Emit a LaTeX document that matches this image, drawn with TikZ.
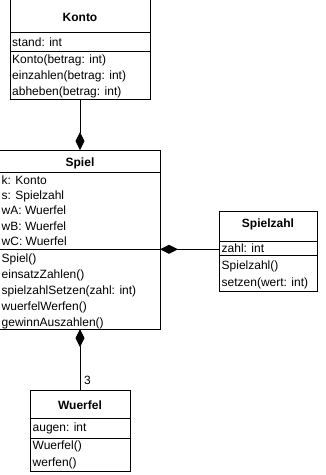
\documentclass[tikz,border=0pt]{standalone}
\usepackage{fontspec}
\setmainfont{Liberation Sans}
\usetikzlibrary{arrows.meta,calc,backgrounds}
\definecolor{shadowgray}{HTML}{C0C0C0}
\begin{document}
\begin{tikzpicture}[x=1pt,y=-1pt,
  classbox/.style={draw=black,line width=1pt,fill=white,inner sep=0pt,outer sep=0pt,anchor=north west},
  txt/.style={anchor=base west,inner sep=0pt,font=\fontsize{12}{14}\selectfont},
  ttl/.style={anchor=base,inner sep=0pt,font=\fontsize{12}{14}\selectfont\bfseries},
  sepline/.style={line width=1pt},
  comp/.style={line width=1pt,-{Diamond[length=18pt,width=9pt]}},
  shadowfill/.style={fill=shadowgray}
]
\useasboundingbox (0,0) rectangle (325,475);
\clip (0,0) rectangle (325,475);
\fill[white] (0,0) rectangle (325,475);

% class boxes
\node[classbox,minimum width=140pt,minimum height=104pt] (konto) at (10,-5) {};
\node[classbox,minimum width=165pt,minimum height=179pt] (spiel) at (-5,150) {};
\node[classbox,minimum width=98pt,minimum height=80pt] (szahl) at (219,211) {};
\node[classbox,minimum width=100pt,minimum height=81pt] (wuerfel) at (30,390) {};

% shadows
\begin{scope}[on background layer]
  \foreach \n in {konto,spiel,szahl,wuerfel}
    \fill[shadowfill] ($(\n.north west)+(4,4)$) rectangle ($(\n.south east)+(4,4)$);
\end{scope}

% Konto
\draw[sepline] (konto.west |- 0,32) -- (konto.east |- 0,32);
\draw[sepline] (konto.west |- 0,51) -- (konto.east |- 0,51);
\node[ttl] (kontoT) at (80,21.5) {Konto};
\node[txt] (kontoA1) at (12,46) {stand: int};
\node[txt] (kontoM1) at (12,63) {Konto(betrag: int)};
\node[txt] (kontoM2) at (12,79) {einzahlen(betrag: int)};
\node[txt] (kontoM3) at (12,95) {abheben(betrag: int)};

% Spiel
\draw[sepline] (spiel.west |- 0,172) -- (spiel.east |- 0,172);
\draw[sepline] (spiel.west |- 0,249) -- (spiel.east |- 0,249);
\node[ttl] (spielT) at (80,166) {Spiel};
\node[txt] (spielA1) at (1.5,184) {k: Konto};
\node[txt] (spielA2) at (1.5,199.4) {s: Spielzahl};
\node[txt] (spielA3) at (1.5,214.8) {wA: Wuerfel};
\node[txt] (spielA4) at (1.5,230.2) {wB: Wuerfel};
\node[txt] (spielA5) at (1.5,245.6) {wC: Wuerfel};
\node[txt] (spielM1) at (1.5,262) {Spiel()};
\node[txt] (spielM2) at (1.5,278) {einsatzZahlen()};
\node[txt] (spielM3) at (1.5,294) {spielzahlSetzen(zahl: int)};
\node[txt] (spielM4) at (1.5,310) {wuerfelWerfen()};
\node[txt] (spielM5) at (1.5,326) {gewinnAuszahlen()};

% Spielzahl
\draw[sepline] (szahl.west |- 0,241.5) -- (szahl.east |- 0,241.5);
\draw[sepline] (szahl.west |- 0,255.5) -- (szahl.east |- 0,255.5);
\node[ttl] (szahlT) at (268,227.5) {Spielzahl};
\node[txt] (szahlA1) at (221.5,252.5) {zahl: int};
\node[txt] (szahlM1) at (221.5,269.5) {Spielzahl()};
\node[txt] (szahlM2) at (221.5,286) {setzen(wert: int)};

% Wuerfel
\draw[sepline] (wuerfel.west |- 0,418) -- (wuerfel.east |- 0,418);
\draw[sepline] (wuerfel.west |- 0,438) -- (wuerfel.east |- 0,438);
\node[ttl] (wuerfelT) at (80,409.3) {Wuerfel};
\node[txt] (wuerfelA1) at (32.5,431) {augen: int};
\node[txt] (wuerfelM1) at (32.5,449.5) {Wuerfel()};
\node[txt] (wuerfelM2) at (32.5,466) {werfen()};

% connectors (composition)
\draw[comp] (konto.south) -- (konto.south |- spiel.north);
\coordinate (szIn) at (szahl.west |- 0,249.3);
\draw[comp] (szIn) -- (spiel.east |- szIn);
\draw[comp] (wuerfel.north) -- (wuerfel.north |- spiel.south);
\node[txt] (mult) at (84,384) {3};
\end{tikzpicture}
\end{document}
